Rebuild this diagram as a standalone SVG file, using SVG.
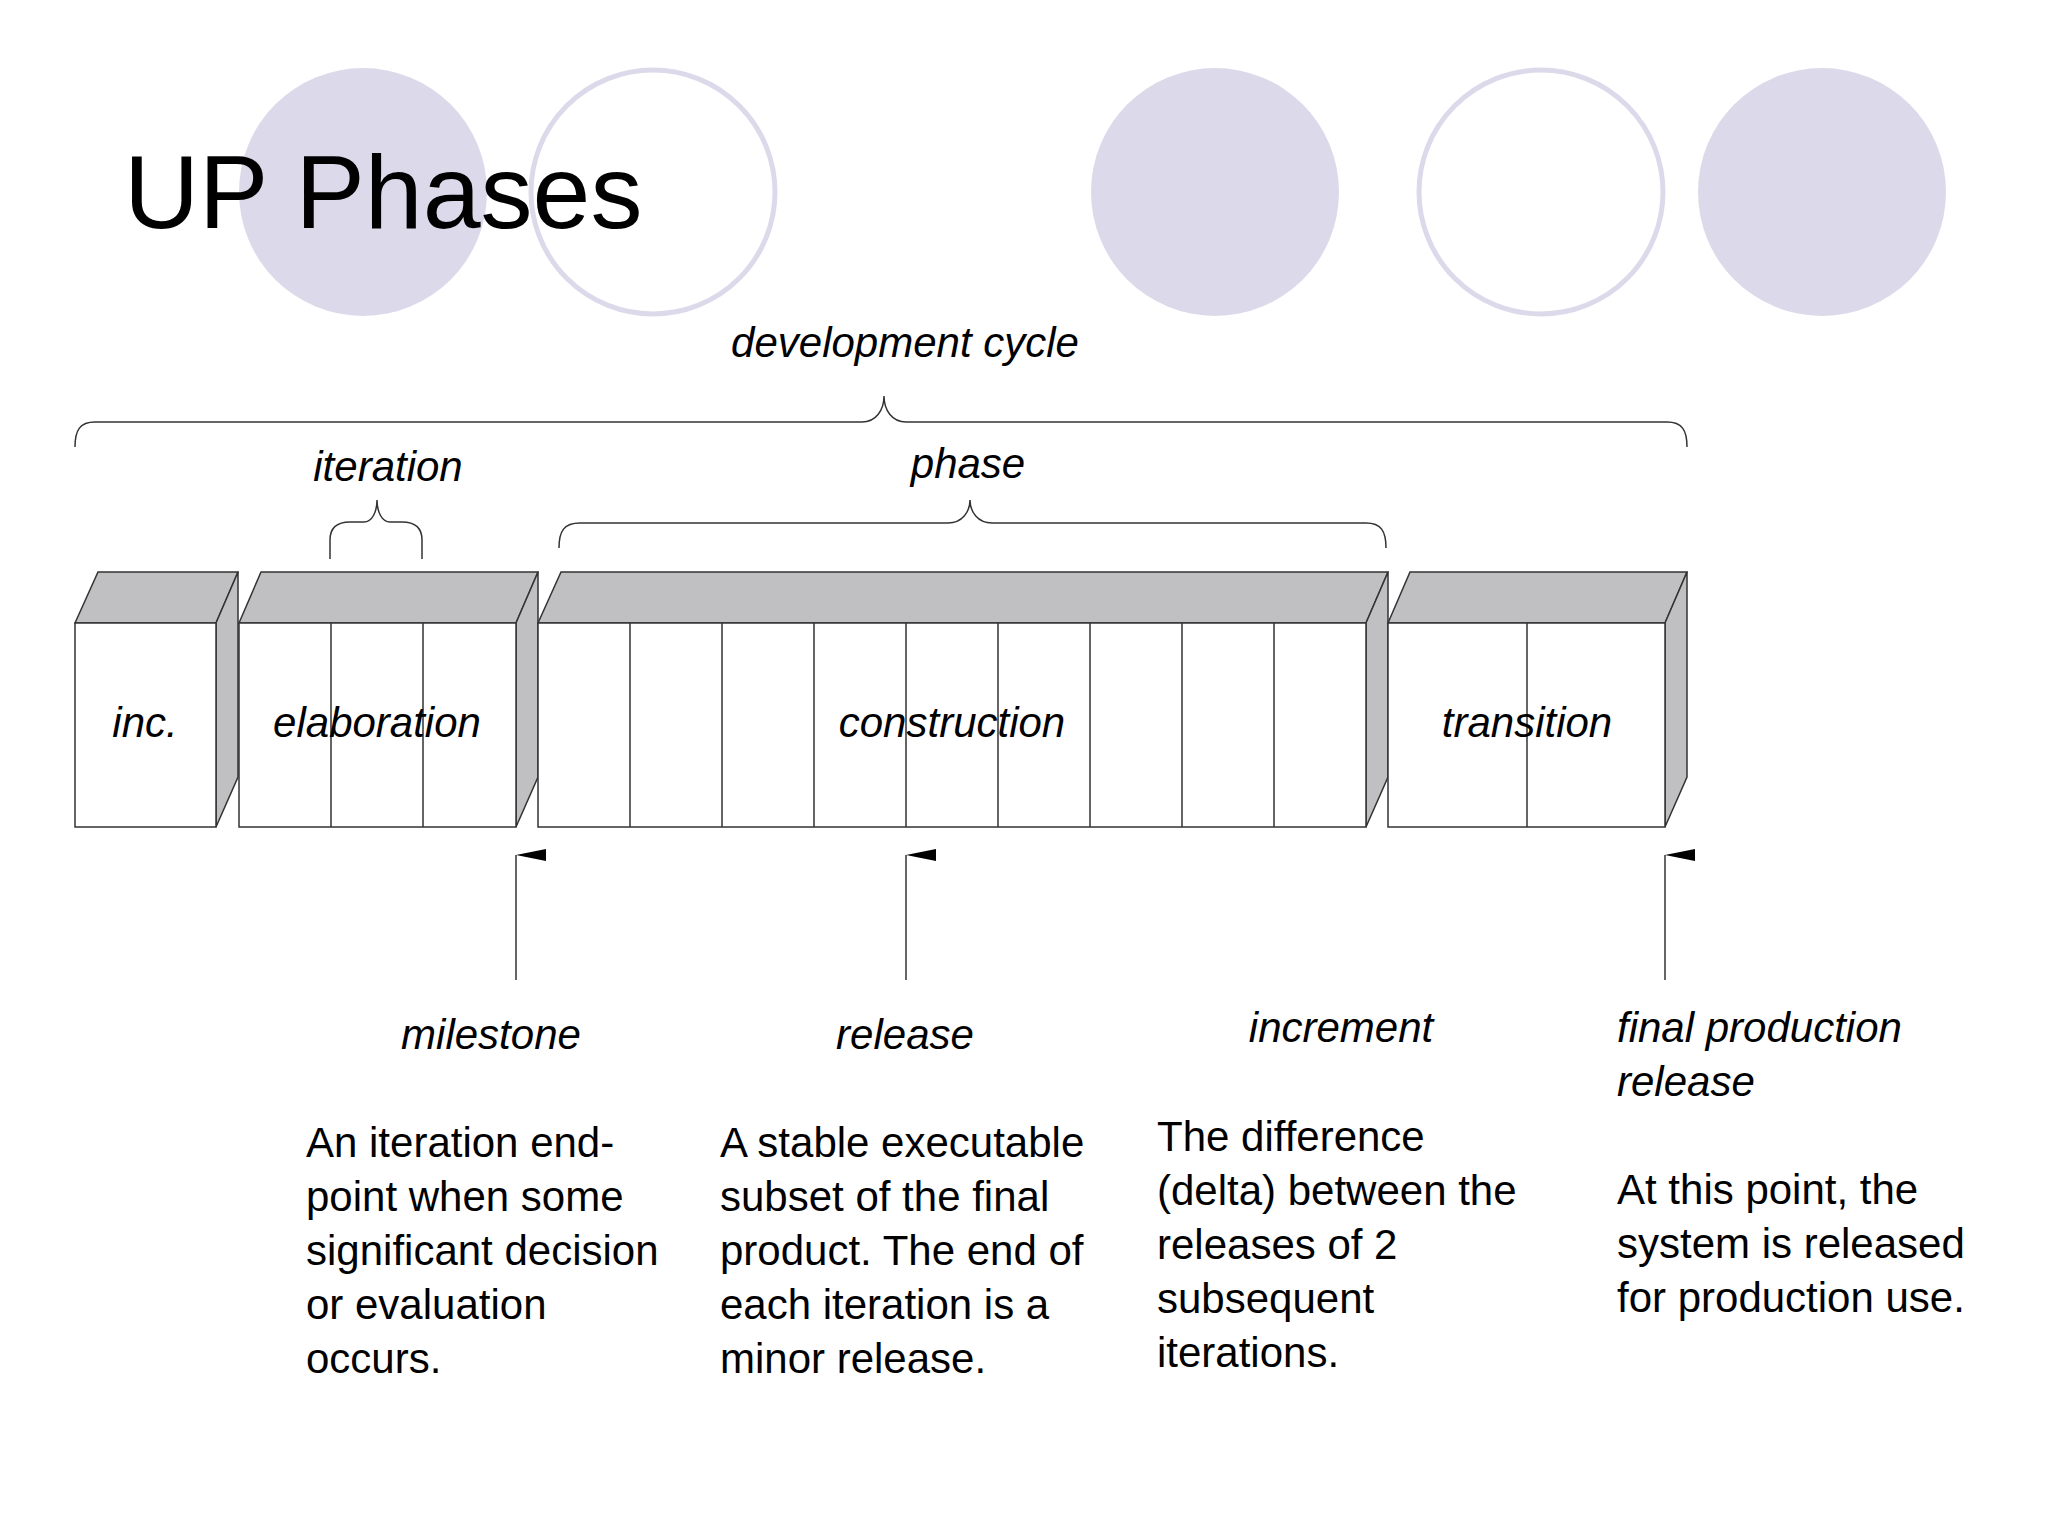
<svg xmlns="http://www.w3.org/2000/svg" width="2048" height="1536" viewBox="0 0 2048 1536">
<defs>
<style>
.f{fill:#dcdaea}
.o{fill:none;stroke:#dcdaea;stroke-width:5}
.w{fill:#fff;stroke:#333;stroke-width:1.5}
.g{fill:#c0c0c2;stroke:#333;stroke-width:1.5}
.l{stroke:#333;stroke-width:1.5;fill:none}
.i{font-family:"Liberation Sans",Arial,sans-serif;font-style:italic;font-size:42px;fill:#000}
.b{font-family:"Liberation Sans",Arial,sans-serif;font-size:42px;fill:#000}
</style>
<marker id="ah" markerWidth="12" markerHeight="30" refX="6" refY="0" orient="auto-start-reverse" markerUnits="userSpaceOnUse" viewBox="0 0 12 30"><path d="M0,30 L6,0 L12,30 Z" fill="#000"/></marker>
</defs>
<rect width="2048" height="1536" fill="#fff"/>
<g id="circles">
<circle class="f" cx="363" cy="192" r="124"/>
<circle class="o" cx="653" cy="192" r="122"/>
<circle class="f" cx="1215" cy="192" r="124"/>
<circle class="o" cx="1541" cy="192" r="122"/>
<circle class="f" cx="1822" cy="192" r="124"/>
</g>
<text x="124" y="228" font-family="Liberation Sans,Arial,sans-serif" font-size="104" fill="#000">UP Phases</text>
<g id="braces" class="l">
<path d="M75,447 C75,430 80,422 95,422 L862,422 C876,422 884,410 884,396 C884,410 892,422 906,422 L1667,422 C1682,422 1687,430 1687,447"/>
<path d="M330,559 L330,540 C330,528 336,522 350,522 L364,522 C372,522 377,512 377,500 C377,512 382,522 390,522 L402,522 C416,522 422,528 422,540 L422,559"/>
<path d="M559,548 C559,531 564,523 580,523 L948,523 C962,523 970,512 970,500 C970,512 978,523 992,523 L1366,523 C1381,523 1386,531 1386,548"/>
</g>
<text class="i" x="905" y="357" text-anchor="middle">development cycle</text>
<text class="i" x="388" y="481" text-anchor="middle">iteration</text>
<text class="i" x="968" y="478" text-anchor="middle">phase</text>
<g id="inception">
<path class="g" d="M75,623 L98,572 L238,572 L216,623 Z"/>
<path class="g" d="M216,623 L238,572 L238,777 L216,827 Z"/>
<rect class="w" x="75" y="623" width="141" height="204"/>
<text class="i" x="145" y="737" text-anchor="middle">inc.</text>
</g>
<g id="elaboration">
<path class="g" d="M239,623 L261,572 L538,572 L516,623 Z"/>
<path class="g" d="M516,623 L538,572 L538,777 L516,827 Z"/>
<rect class="w" x="239" y="623" width="277" height="204"/>
<path class="l" d="M331,623V827M423,623V827"/>
<text class="i" x="377" y="737" text-anchor="middle">elaboration</text>
</g>
<g id="construction">
<path class="g" d="M538,623 L561,572 L1388,572 L1366,623 Z"/>
<path class="g" d="M1366,623 L1388,572 L1388,777 L1366,827 Z"/>
<rect class="w" x="538" y="623" width="828" height="204"/>
<path class="l" d="M630,623V827M722,623V827M814,623V827M906,623V827M998,623V827M1090,623V827M1182,623V827M1274,623V827"/>
<text class="i" x="952" y="737" text-anchor="middle">construction</text>
</g>
<g id="transition">
<path class="g" d="M1388,623 L1410,572 L1687,572 L1665,623 Z"/>
<path class="g" d="M1665,623 L1687,572 L1687,777 L1665,827 Z"/>
<rect class="w" x="1388" y="623" width="277" height="204"/>
<path class="l" d="M1527,623V827"/>
<text class="i" x="1527" y="737" text-anchor="middle">transition</text>
</g>
<g id="connectors" class="l">
<line x1="516" y1="980" x2="516" y2="855" marker-end="url(#ah)"/>
<line x1="906" y1="980" x2="906" y2="855" marker-end="url(#ah)"/>
<line x1="1665" y1="980" x2="1665" y2="855" marker-end="url(#ah)"/>
</g>
<g id="milestone">
<text class="i" x="491" y="1049" text-anchor="middle">milestone</text>
<text class="b" x="306" y="1157">An iteration end-<tspan x="306" dy="54">point when some</tspan><tspan x="306" dy="54">significant decision</tspan><tspan x="306" dy="54">or evaluation</tspan><tspan x="306" dy="54">occurs.</tspan></text>
</g>
<g id="release">
<text class="i" x="905" y="1049" text-anchor="middle">release</text>
<text class="b" x="720" y="1157">A stable executable<tspan x="720" dy="54">subset of the final</tspan><tspan x="720" dy="54">product. The end of</tspan><tspan x="720" dy="54">each iteration is a</tspan><tspan x="720" dy="54">minor release.</tspan></text>
</g>
<g id="increment">
<text class="i" x="1341" y="1042" text-anchor="middle">increment</text>
<text class="b" x="1157" y="1151">The difference<tspan x="1157" dy="54">(delta) between the</tspan><tspan x="1157" dy="54">releases of 2</tspan><tspan x="1157" dy="54">subsequent</tspan><tspan x="1157" dy="54">iterations.</tspan></text>
</g>
<g id="final">
<text class="i" x="1617" y="1042">final production<tspan x="1617" dy="54">release</tspan></text>
<text class="b" x="1617" y="1204">At this point, the<tspan x="1617" dy="54">system is released</tspan><tspan x="1617" dy="54">for production use.</tspan></text>
</g>
</svg>
